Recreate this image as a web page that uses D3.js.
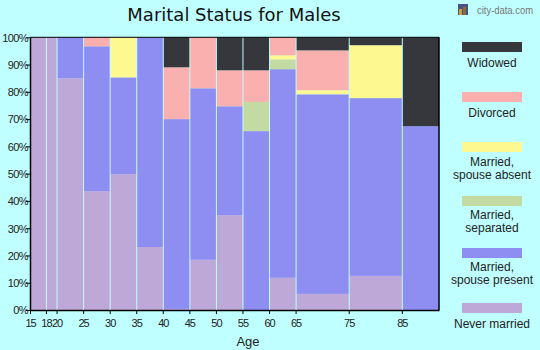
<!DOCTYPE html>
<html><head><meta charset="utf-8">
<script src="https://cdn.jsdelivr.net/npm/d3@7"></script>
<style>body{margin:0;background:#c0ffff;}svg{display:block;}</style>
</head><body>
<svg id="chart" width="540" height="350"></svg>
<script>
const ageEdges = [15,18,20,25,30,35,40,45,50,55,60,65,75,85,92];
const xTicks = [15,18,20,25,30,35,40,45,50,55,60,65,75,85];
const yTicks = [0,10,20,30,40,50,60,70,80,90,100];
const seriesNames = ["Never married","Married, spouse present","Married, separated","Married, spouse absent","Divorced","Widowed"];
const seriesColors = ["#bda8d8","#8e8ef2","#c3daa3","#fef891","#f9b0ae","#35373d"];
const neverMarried   = [100,100,85,43.6,49.8,23.1,0.4,18.4,34.8,0,11.8,5.9,12.5,0];
const spousePresent  = [0,0,15,53.1,35.5,76.9,69.6,62.9,39.9,65.6,76.5,73.2,65.2,67.4];
const separated      = [0,0,0,0,0,0,0,0,0,10.7,3.6,0,0,0];
const spouseAbsent   = [0,0,0,0,14.7,0,0,0,0,0,1.5,1.5,19.4,0];
const divorced       = [0,0,0,3.4,0,0,19,18.7,13.2,11.6,6.6,14.6,0,0];
const widowed        = [0,0,0,0,0,0,11,0,12.1,12.1,0,4.8,2.9,32.6];
const seriesValues = [neverMarried,spousePresent,separated,spouseAbsent,divorced,widowed];

const svg = d3.select("#chart");
const x = d3.scaleLinear().domain([15,92]).range([30,439]);
const y = d3.scaleLinear().domain([0,100]).range([310,37.3]);

svg.append("rect").attr("width",540).attr("height",350).attr("fill","#c0ffff");

const rows = ageEdges.slice(0,-1).map((a,i)=>{
  const r = {x0:a, x1:ageEdges[i+1]};
  seriesNames.forEach((n,k)=>r[n]=seriesValues[k][i]);
  return r;
});
const stack = d3.stack().keys(seriesNames)(rows);
const g = svg.append("g");
stack.forEach((layer,k)=>{
  g.selectAll(null).data(layer).enter().append("rect")
    .attr("x",d=>x(d.data.x0)+1)
    .attr("width",d=>x(d.data.x1)-x(d.data.x0)-1)
    .attr("y",d=>y(d[1]))
    .attr("height",d=>Math.max(0,y(d[0])-y(d[1])))
    .attr("fill",seriesColors[k]);
});

// axes
const xAxis = svg.append("g").attr("transform","translate(0,310)")
  .call(d3.axisBottom(x).tickValues(xTicks).tickSize(4).tickSizeOuter(0).tickFormat(d3.format("d")));
const yAxis = svg.append("g").attr("transform","translate(30,0)")
  .call(d3.axisLeft(y).tickValues(yTicks).tickSize(4).tickSizeOuter(0).tickFormat(d=>d+"%"));
[xAxis,yAxis].forEach(a=>{
  a.select(".domain").attr("stroke","#000").attr("stroke-width",1.5);
  a.selectAll(".tick line").attr("stroke","#000");
  a.selectAll("text").attr("font-family","'Liberation Sans',Arial,sans-serif").attr("font-size",11).attr("fill","#222");
});
xAxis.selectAll("text").attr("dy","0.9em").attr("letter-spacing","-1");
yAxis.selectAll("text").attr("x",-2).attr("dy","0.35em").attr("letter-spacing","-0.6");
// right border and top
svg.append("line").attr("x1",439).attr("x2",439).attr("y1",37.3).attr("y2",310).attr("stroke","#000").attr("stroke-width",1.5);
svg.append("line").attr("x1",30).attr("x2",439).attr("y1",37.3).attr("y2",37.3).attr("stroke","#000").attr("stroke-width",1);

// title
svg.append("text").attr("x",234).attr("y",21).attr("text-anchor","middle")
  .attr("font-family","Verdana,'DejaVu Sans',sans-serif").attr("font-size",18).attr("fill","#111")
  .text("Marital Status for Males");
svg.append("text").attr("x",248).attr("y",346).attr("text-anchor","middle")
  .attr("font-family","'Liberation Sans',Arial,sans-serif").attr("font-size",13).attr("fill","#222").text("Age");

// logo
const logo = svg.append("g");
logo.append("rect").attr("x",458).attr("y",4).attr("width",10).attr("height",11).attr("fill","#4a4f86");
logo.append("rect").attr("x",459).attr("y",9).attr("width",3).attr("height",6).attr("fill","#c9a040");
logo.append("rect").attr("x",463).attr("y",7).attr("width",3).attr("height",8).attr("fill","#8a7030");
logo.append("text").attr("x",477).attr("y",14).attr("font-family","'Liberation Sans',Arial,sans-serif")
  .attr("font-size",10).attr("textLength",56).attr("lengthAdjust","spacingAndGlyphs").attr("fill","#777").text("city-data.com");

// legend
const legendItems = [
  {k:5, sy:42, lines:["Widowed"], ly:67},
  {k:4, sy:92, lines:["Divorced"], ly:117},
  {k:3, sy:142, lines:["Married,","spouse absent"], ly:166},
  {k:2, sy:196, lines:["Married,","separated"], ly:219},
  {k:1, sy:248, lines:["Married,","spouse present"], ly:271},
  {k:0, sy:303, lines:["Never married"], ly:328}
];
const lg = svg.append("g");
legendItems.forEach(it=>{
  lg.append("rect").attr("x",462).attr("y",it.sy).attr("width",60).attr("height",10).attr("fill",seriesColors[it.k]);
  it.lines.forEach((t,i)=>{
    lg.append("text").attr("x",492).attr("y",it.ly+i*12.5).attr("text-anchor","middle")
      .attr("font-family","'Liberation Sans',Arial,sans-serif").attr("font-size",12).attr("fill","#222").text(t);
  });
});
</script>
</body></html>
